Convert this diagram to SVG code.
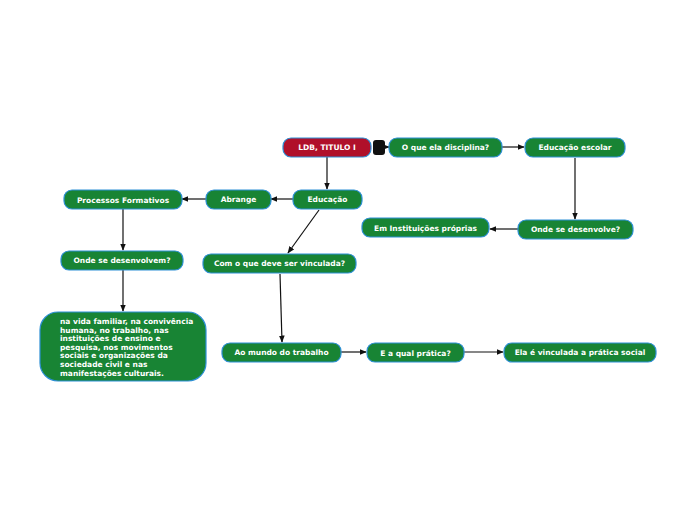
<svg xmlns="http://www.w3.org/2000/svg" width="697" height="520" viewBox="0 0 697 520">
<style>
.n{fill:#188434;stroke:#2d8fd5;stroke-width:1.2}
.r{fill:#b0102a;stroke:#2d8fd5;stroke-width:1.2}
text{font-family:"DejaVu Sans",Verdana,sans-serif;font-weight:bold;font-size:7.5px;fill:#fff}
.c text{text-anchor:middle}
.c text.l{text-anchor:start}
.e{stroke:#111;stroke-width:1.2;fill:none;marker-end:url(#a)}
</style>
<defs><marker id="a" viewBox="0 0 10 10" refX="9" refY="5" markerWidth="6" markerHeight="6" orient="auto"><path d="M0,1L10,5L0,9z" fill="#111"/></marker></defs>
<rect width="697" height="520" fill="#fff"/>
<g id="connectors">
<path class="e" d="M327,157L327,189"/>
<path class="e" d="M385,147L389,147"/>
<path class="e" d="M502,147L524,147"/>
<path class="e" d="M575,158L575,219"/>
<path class="e" d="M518,229L490,229"/>
<path class="e" d="M293,199L271,199"/>
<path class="e" d="M206,199L182,199"/>
<path class="e" d="M123,209L123,250"/>
<path class="e" d="M123,270L123,311"/>
<path class="e" d="M319,210L288,253"/>
<path class="e" d="M280,274L282,342"/>
<path class="e" d="M341,352L366,352"/>
<path class="e" d="M464,352L503,352"/>
</g>
<g class="c">
<g id="ldb"><rect class="r" x="283" y="138" width="88" height="19" rx="8"/><text x="327" y="150">LDB, TITULO I</text></g>
<g id="handle"><rect x="373" y="140" width="12" height="15" rx="3" fill="#111"/></g>
<g id="oque"><rect class="n" x="389" y="138" width="113" height="19" rx="8"/><text x="445.5" y="150">O que ela disciplina?</text></g>
<g id="escolar"><rect class="n" x="525" y="138" width="100" height="19" rx="8"/><text x="575" y="150">Educação escolar</text></g>
<g id="educacao"><rect class="n" x="293" y="190" width="69" height="19" rx="8"/><text x="327.5" y="202">Educação</text></g>
<g id="abrange"><rect class="n" x="206" y="190" width="65" height="19" rx="8"/><text x="238.5" y="202">Abrange</text></g>
<g id="processos"><rect class="n" x="64" y="190" width="118" height="19" rx="8"/><text x="123" y="203">Processos Formativos</text></g>
<g id="ondedesenvolve"><rect class="n" x="518" y="220" width="115" height="19" rx="8"/><text x="575.5" y="232">Onde se desenvolve?</text></g>
<g id="instituicoes"><rect class="n" x="362" y="218" width="127" height="19" rx="8"/><text x="425.5" y="231">Em Instituições próprias</text></g>
<g id="ondedesenvolvem"><rect class="n" x="61" y="251" width="122" height="19" rx="8"/><text x="122" y="263">Onde se desenvolvem?</text></g>
<g id="com"><rect class="n" x="203" y="254" width="153" height="19" rx="8"/><text x="279.5" y="266">Com o que deve ser vinculada?</text></g>
<g id="vida"><rect class="n" x="40" y="312" width="166" height="69" rx="18"/>
<text class="l" x="60" y="324"><tspan x="60">na vida familiar, na convivência</tspan><tspan x="60" dy="8.6">humana, no trabalho, nas</tspan><tspan x="60" dy="8.6">instituições de ensino e</tspan><tspan x="60" dy="8.6">pesquisa, nos movimentos</tspan><tspan x="60" dy="8.6">sociais e organizações da</tspan><tspan x="60" dy="8.6">sociedade civil e nas</tspan><tspan x="60" dy="8.6">manifestações culturais.</tspan></text></g>
<g id="mundo"><rect class="n" x="222" y="343" width="119" height="19" rx="8"/><text x="281.5" y="355">Ao mundo do trabalho</text></g>
<g id="pratica"><rect class="n" x="367" y="343" width="97" height="19" rx="8"/><text x="415.5" y="356">E a qual prática?</text></g>
<g id="ela"><rect class="n" x="504" y="343" width="152" height="19" rx="8"/><text x="580" y="355">Ela é vinculada a prática social</text></g>
</g>
</svg>
